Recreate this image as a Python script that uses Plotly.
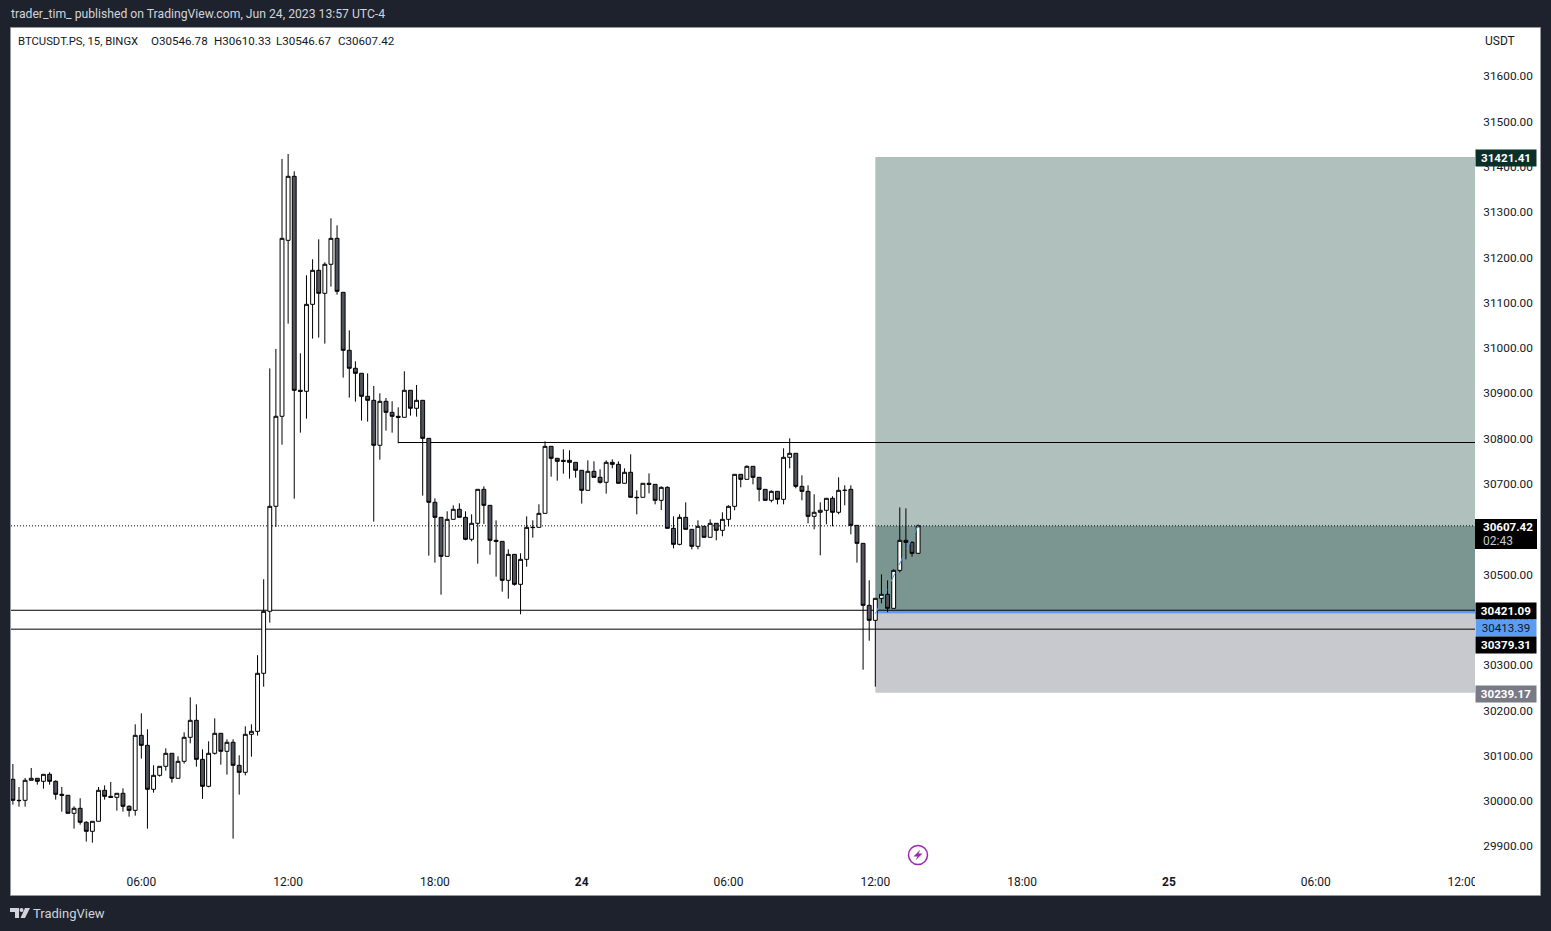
import pandas as pd
import plotly.graph_objects as go

W, H = 1551, 931

# candles, first one is 00:45, 15 minute bars
open_ = [30047.9, 30001.5, 30001.5, 30045.7, 30050.1, 30043.5, 30058.9, 30043.5, 30014.8, 30012.6,
         29972.8, 29983.9, 29953.0, 29933.1, 29955.2, 30023.6, 30010.3, 30008.1, 30017.0, 29988.3,
         29979.4, 30145.0, 30122.9, 30025.8, 30056.7, 30076.6, 30105.3, 30050.1, 30087.6, 30140.6,
         30178.1, 30092.0, 30032.4, 30105.3, 30149.4, 30109.7, 30129.6, 30078.8, 30063.3, 30147.2,
         30153.8, 30281.9, 30418.8, 30650.5, 30849.2, 31237.7, 31379.0, 30906.6, 30904.4, 31096.4,
         31171.5, 31120.7, 31184.8, 31242.1, 31122.9, 30994.9, 30955.2, 30944.1, 30893.3, 30884.5,
         30785.2, 30882.3, 30858.0, 30849.2, 30847.0, 30906.6, 30866.9, 30884.5, 30800.6, 30659.4,
         30626.2, 30540.1, 30621.8, 30643.9, 30626.2, 30577.7, 30613.0, 30688.0, 30652.7, 30575.5,
         30573.2, 30487.1, 30544.5, 30478.3, 30533.5, 30603.4, 30604.1, 30635.0, 30782.9, 30756.5,
         30752.0, 30752.0, 30747.6, 30730.0, 30685.8, 30727.8, 30714.5, 30703.5, 30747.6, 30743.2,
         30701.3, 30725.6, 30670.4, 30670.4, 30701.3, 30699.0, 30663.7, 30692.4, 30601.9, 30566.6,
         30626.2, 30599.7, 30562.2, 30606.4, 30582.1, 30613.0, 30597.5, 30621.8, 30650.5, 30721.1,
         30710.1, 30738.8, 30714.5, 30688.0, 30663.7, 30683.6, 30665.9, 30758.7, 30767.5, 30694.6,
         30683.6, 30628.4, 30637.3, 30641.7, 30668.2, 30637.3, 30685.8, 30688.0, 30608.5, 30568.8,
         30431.9, 30398.8, 30447.4, 30456.2, 30425.3, 30509.2, 30575.4, 30571.0, 30546.78]
close = [30001.5, 30000.8, 30045.7, 30050.1, 30043.5, 30058.9, 30043.5, 30014.8, 30012.6, 29972.8,
         29983.9, 29953.0, 29933.1, 29955.2, 30023.6, 30010.3, 30008.1, 30017.0, 29988.3, 29979.4,
         30145.0, 30122.9, 30025.8, 30056.7, 30076.6, 30105.3, 30050.1, 30087.6, 30140.6, 30178.1,
         30092.0, 30032.4, 30105.3, 30149.4, 30109.7, 30129.6, 30078.8, 30063.3, 30147.2, 30153.8,
         30281.9, 30418.7, 30650.5, 30849.2, 31242.1, 31379.0, 30906.6, 30904.4, 31096.4, 31171.5,
         31120.7, 31184.8, 31242.1, 31125.1, 30994.9, 30955.2, 30944.1, 30893.4, 30884.5, 30785.2,
         30882.3, 30858.0, 30849.2, 30847.0, 30906.6, 30866.9, 30884.5, 30800.6, 30659.4, 30626.2,
         30540.1, 30621.8, 30643.9, 30626.2, 30577.7, 30613.0, 30688.0, 30652.7, 30575.5, 30573.2,
         30487.1, 30544.5, 30478.3, 30533.5, 30604.1, 30604.1, 30635.0, 30782.9, 30756.5, 30749.8,
         30749.8, 30747.6, 30730.0, 30685.8, 30727.8, 30714.5, 30703.5, 30747.6, 30743.2, 30701.3,
         30725.6, 30670.4, 30669.6, 30701.3, 30699.0, 30663.7, 30692.4, 30601.9, 30566.6, 30626.2,
         30599.7, 30562.2, 30606.4, 30582.1, 30613.0, 30597.5, 30621.8, 30650.5, 30721.1, 30710.1,
         30738.8, 30714.5, 30688.0, 30663.7, 30683.6, 30665.9, 30758.7, 30767.5, 30694.6, 30683.6,
         30628.4, 30637.3, 30641.7, 30668.2, 30637.3, 30685.8, 30685.8, 30608.6, 30568.8, 30431.9,
         30398.8, 30447.4, 30456.2, 30425.3, 30509.2, 30575.4, 30571.0, 30546.7, 30607.42]
high = [30081.7, 30030.9, 30050.8, 30072.9, 30050.1, 30058.9, 30063.3, 30045.7, 30030.9, 30012.6,
        29988.3, 30006.0, 29955.2, 29955.2, 30030.9, 30034.6, 30042.0, 30017.0, 30028.0, 29990.5,
        30169.3, 30193.6, 30158.3, 30078.8, 30076.6, 30116.3, 30105.3, 30098.6, 30151.6, 30228.9,
        30213.4, 30114.1, 30131.8, 30182.5, 30149.4, 30136.2, 30136.2, 30100.9, 30164.9, 30169.3,
        30322.0, 30489.4, 30955.0, 30998.0, 31417.3, 31428.3, 31390.0, 30988.3, 31160.5, 31195.8,
        31239.9, 31189.2, 31286.3, 31270.8, 31122.9, 31039.0, 30970.6, 30944.1, 30944.0, 30916.2,
        30900.0, 30889.7, 30882.3, 30869.0, 30948.6, 30906.6, 30918.4, 30884.5, 30800.6, 30668.2,
        30626.2, 30639.5, 30652.7, 30657.1, 30639.5, 30632.8, 30688.0, 30694.6, 30652.7, 30619.6,
        30573.2, 30555.6, 30544.5, 30546.8, 30628.4, 30619.6, 30654.9, 30794.0, 30782.9, 30756.5,
        30776.3, 30774.1, 30747.6, 30730.0, 30752.0, 30749.8, 30732.2, 30752.0, 30754.2, 30749.8,
        30734.4, 30765.3, 30685.8, 30701.3, 30723.3, 30699.0, 30694.6, 30694.6, 30628.4, 30632.8,
        30659.3, 30599.7, 30619.6, 30606.4, 30621.8, 30613.0, 30637.3, 30652.7, 30721.1, 30721.1,
        30741.0, 30738.8, 30714.5, 30688.0, 30685.8, 30683.6, 30778.5, 30800.6, 30767.5, 30718.9,
        30696.9, 30677.0, 30659.3, 30668.2, 30672.6, 30714.5, 30696.9, 30696.9, 30608.5, 30568.8,
        30487.1, 30447.4, 30500.3, 30487.1, 30511.4, 30648.2, 30646.0, 30573.2, 30610.33]
low = [29992.0, 29987.5, 29987.5, 30045.7, 30036.1, 30027.3, 30036.1, 30003.0, 29976.5, 29972.8,
       29939.0, 29947.8, 29910.3, 29908.1, 29955.2, 30003.0, 30008.1, 29978.7, 29976.5, 29965.5,
       29967.7, 30093.5, 29939.0, 30018.4, 30053.8, 30067.0, 30040.5, 30050.1, 30082.5, 30127.3,
       30075.8, 30004.6, 30030.2, 30102.3, 30080.2, 30058.2, 29916.9, 30014.0, 30056.7, 30097.9,
       30144.3, 30252.3, 30393.7, 30604.9, 30786.6, 31053.8, 30667.4, 30813.1, 30844.0, 31020.7,
       31022.9, 31009.6, 31135.4, 31117.8, 30934.6, 30890.4, 30881.6, 30839.6, 30837.4, 30616.7,
       30753.5, 30817.6, 30813.1, 30789.6, 30847.0, 30850.7, 30848.5, 30674.0, 30541.6, 30526.2,
       30455.5, 30540.1, 30621.8, 30626.2, 30575.5, 30573.2, 30523.9, 30611.5, 30543.8, 30495.2,
       30462.1, 30446.7, 30475.4, 30412.1, 30517.3, 30581.3, 30604.1, 30635.0, 30716.0, 30707.2,
       30722.6, 30711.6, 30713.8, 30656.4, 30685.8, 30714.5, 30700.5, 30678.5, 30734.4, 30701.3,
       30701.3, 30670.4, 30632.8, 30670.4, 30679.2, 30654.9, 30642.4, 30601.9, 30557.8, 30564.4,
       30599.7, 30555.6, 30555.6, 30582.1, 30582.1, 30575.5, 30584.3, 30606.4, 30641.7, 30692.4,
       30710.1, 30699.0, 30661.5, 30663.7, 30659.3, 30654.9, 30654.9, 30734.4, 30690.2, 30663.7,
       30613.0, 30599.7, 30542.3, 30610.8, 30606.4, 30632.8, 30652.7, 30588.7, 30526.1, 30289.9,
       30353.9, 30252.4, 30436.3, 30416.5, 30425.3, 30504.8, 30533.4, 30539.3, 30546.67]

y_ticks = [29900, 30000, 30100, 30200, 30300, 30400, 30500, 30600, 30700, 30800, 30900,
           31000, 31100, 31200, 31300, 31400, 31500, 31600]
x_ticks = ["2023-06-23 06:00", "2023-06-23 12:00", "2023-06-23 18:00", "2023-06-24 00:00",
           "2023-06-24 06:00", "2023-06-24 12:00", "2023-06-24 18:00", "2023-06-25 00:00",
           "2023-06-25 06:00", "2023-06-25 12:00"]
x_labels = ["06:00", "12:00", "18:00", "<b>24</b>", "06:00", "12:00", "18:00", "<b>25</b>", "06:00", "12:00"]

last_price = 30607.42
target = 31421.41
entry_line = 30421.09
entry = 30413.39
support = 30379.31
stop = 30239.17
resistance = 30791.4

FONT = "Roboto"
DARK = "#1e222d"
INK = "#131722"
x_start = "2023-06-23 00:40:24"
x_end = "2023-06-25 12:30:36"
pos_start = "2023-06-24 12:00"
times = pd.date_range("2023-06-23 00:45", periods=len(close), freq="15min")


# pixel helpers for the chrome around the chart
def px(x):
    return x / W


def py(y):
    return 1 - y / H


def pix_path(points):
    return "M " + " L ".join(f"{px(a):.5f},{py(b):.5f}" for a, b in points) + " Z"


fig = go.Figure()

# dashed link from entry to the last price on the position tool
fig.add_trace(go.Scatter(x=[pos_start, times[-1]], y=[entry, last_price], mode="lines",
                         line=dict(color="#5b9cf6", width=1, dash="dash"),
                         showlegend=False, hoverinfo="skip"))

fig.add_trace(go.Candlestick(
    x=times, open=open_, high=high, low=low, close=close,
    increasing=dict(line=dict(color="#000000", width=1), fillcolor="#ffffff"),
    decreasing=dict(line=dict(color="#000000", width=1), fillcolor="#50535e"),
    whiskerwidth=0, showlegend=False,
))

shapes = [
    # white chart frame
    dict(type="rect", xref="paper", yref="paper", x0=px(10.5), x1=px(1540.5), y0=py(895.5), y1=py(27.5),
         fillcolor="#ffffff", line=dict(color="#9598a1", width=1), layer="below"),
    # long position zones
    dict(type="rect", x0=pos_start, x1=x_end, y0=last_price, y1=target, fillcolor="#b0c0bc",
         line=dict(width=0), layer="below"),
    dict(type="rect", x0=pos_start, x1=x_end, y0=entry_line, y1=last_price, fillcolor="#7b9690",
         line=dict(width=0), layer="below"),
    dict(type="rect", x0=pos_start, x1=x_end, y0=entry, y1=entry_line, fillcolor="#5b9cf6",
         line=dict(width=0), layer="below"),
    dict(type="rect", x0=pos_start, x1=x_end, y0=stop, y1=entry, fillcolor="#c8c9ce",
         line=dict(width=0), layer="below"),
    # horizontal levels
    dict(type="line", x0="2023-06-23 16:30", x1=x_end, y0=resistance, y1=resistance,
         line=dict(color="#000000", width=1), layer="below"),
    dict(type="line", x0=x_start, x1=x_end, y0=entry_line, y1=entry_line,
         line=dict(color="#000000", width=1), layer="below"),
    dict(type="line", x0=x_start, x1=x_end, y0=support, y1=support,
         line=dict(color="#000000", width=1), layer="below"),
    dict(type="line", x0=x_start, x1=x_end, y0=last_price, y1=last_price,
         line=dict(color="#000000", width=1, dash="1px,2px"), layer="below"),
    # clips the last time label where the price scale starts
    dict(type="rect", xref="paper", yref="paper", x0=px(1475), x1=px(1540), y0=py(895), y1=py(868),
         fillcolor="#ffffff", line=dict(width=0), layer="above"),
    # lightning badge
    dict(type="circle", xref="paper", yref="paper", x0=px(908.5), x1=px(927.5), y0=py(864.5), y1=py(845.5),
         line=dict(color="#9c27b0", width=1.5), fillcolor="rgba(0,0,0,0)", layer="above"),
    dict(type="path", xref="paper", yref="paper",
         path=pix_path([(920.5, 849.5), (913.5, 856.5), (917.5, 856.5), (915.5, 860.5), (922.5, 853.5), (918.5, 853.5)]),
         fillcolor="#9c27b0", line=dict(width=0), layer="above"),
    # TradingView logo
    dict(type="path", xref="paper", yref="paper",
         path=pix_path([(10, 908), (19, 908), (19, 918), (15, 918), (15, 912), (10, 912)]),
         fillcolor="#d1d4dc", line=dict(width=0), layer="above"),
    dict(type="circle", xref="paper", yref="paper", x0=px(19.5), x1=px(23.5), y0=py(912), y1=py(908),
         fillcolor="#d1d4dc", line=dict(width=0), layer="above"),
    dict(type="path", xref="paper", yref="paper",
         path=pix_path([(25, 908), (30, 908), (25, 918), (20.5, 918)]),
         fillcolor="#d1d4dc", line=dict(width=0), layer="above"),
    # box behind the two line last price label
    dict(type="rect", xref="paper", yref="paper", x0=px(1475), x1=px(1537), y0=py(549), y1=py(519),
         fillcolor="#000000", line=dict(width=0), layer="above"),
]


# price tags get pushed apart on the scale, so they sit at page positions
def price_tag(y, text, bg, color="#ffffff"):
    return dict(xref="paper", x=px(1475), xanchor="left", yref="paper", y=py(y), yanchor="middle",
                text=text, showarrow=False, align="center", width=60, height=16, borderpad=0,
                bgcolor=bg, font=dict(family=FONT, size=11.6, color=color))


def page_text(x, y, text, color, size=12):
    return dict(xref="paper", yref="paper", x=px(x - 2), y=py(y), xanchor="left", yanchor="middle",
                text=text, showarrow=False, font=dict(family=FONT, size=size, color=color))


annotations = [
    price_tag(157.5, "<b>31421.41</b>", "#0a3029"),
    price_tag(610.5, "<b>30421.09</b>", "#000000"),
    price_tag(628, "30413.39", "#5b9cf6", INK),
    price_tag(645, "<b>30379.31</b>", "#000000"),
    price_tag(693.5, "<b>30239.17</b>", "#787b86"),
    page_text(1483, 526.5, "<b>30607.42</b>", "#ffffff", 11.6),
    page_text(1483, 541, "02:43", "#c8c9ce"),
    page_text(10.5, 14, "trader_tim_ published on TradingView.com, Jun 24, 2023 13:57 UTC-4", "#d1d4dc", 12.2),
    page_text(18, 41.5, "BTCUSDT.PS, 15, BINGX", INK, 11.3),
    page_text(151, 41.5, "O30546.78", INK, 11.6),
    page_text(214, 41.5, "H30610.33", INK, 11.6),
    page_text(276, 41.5, "L30546.67", INK, 11.6),
    page_text(338, 41.5, "C30607.42", INK, 11.6),
    page_text(1485, 41, "USDT", INK),
    page_text(33, 913, "TradingView", "#d1d4dc", 13),
]

fig.update_layout(
    width=W, height=H, autosize=False,
    margin=dict(l=0, r=0, t=0, b=0),
    paper_bgcolor=DARK, plot_bgcolor="#ffffff",
    shapes=shapes, annotations=annotations,
    font=dict(family=FONT, size=12, color=INK),
    showlegend=False,
    boxgap=0.1,
    xaxis=dict(domain=[px(11), px(1475)], range=[x_start, x_end], type="date", automargin=False,
               rangeslider=dict(visible=False), showgrid=False, zeroline=False, showline=False,
               tickmode="array", tickvals=x_ticks, ticktext=x_labels,
               ticks="outside", ticklen=3, tickcolor="rgba(0,0,0,0)", anchor="y",
               tickfont=dict(family=FONT, size=12, color=INK)),
    yaxis=dict(domain=[py(868), py(28)], range=[29852.1, 31706.4], side="right", automargin=False,
               showgrid=False, zeroline=False, showline=False, anchor="x",
               tickmode="array", tickvals=y_ticks, tickformat=".2f",
               ticks="outside", ticklen=5, tickcolor="rgba(0,0,0,0)",
               tickfont=dict(family=FONT, size=11.8, color=INK)),
)

# the page has a default body margin that pushes the figure off by 8px
fig.write_html("out.html", config={"displayModeBar": False}, post_script="document.body.style.margin='0';")
